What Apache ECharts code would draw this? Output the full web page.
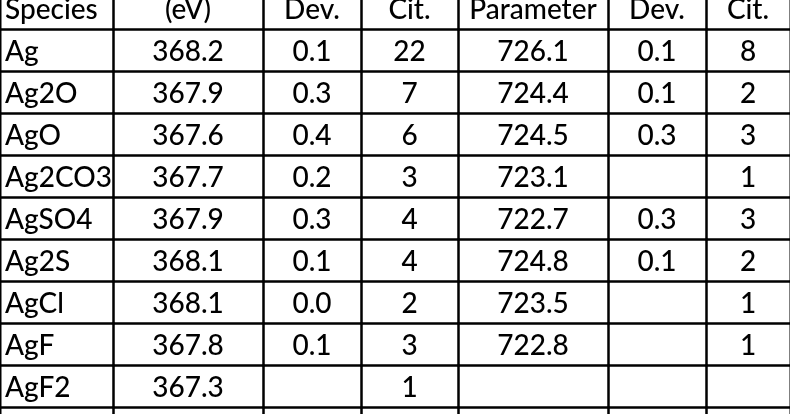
<!DOCTYPE html>
<html>
<head>
<meta charset="utf-8">
<script src="https://cdn.jsdelivr.net/npm/echarts@6/dist/echarts.min.js"></script>
<style>html,body{margin:0;padding:0;background:#fff}#main{width:790px;height:414px}</style>
</head>
<body>
<div id="main"></div>
<script>
var headers = ['Species', '(eV)', 'Dev.', 'Cit.', 'Parameter', 'Dev.', 'Cit.'];
var species = ['Ag', 'Ag2O', 'AgO', 'Ag2CO3', 'AgSO4', 'Ag2S', 'AgCl', 'AgF', 'AgF2', ''];
var energy1 = ['368.2', '367.9', '367.6', '367.7', '367.9', '368.1', '368.1', '367.8', '367.3', ''];
var dev1 = ['0.1', '0.3', '0.4', '0.2', '0.3', '0.1', '0.0', '0.1', '', ''];
var cit1 = ['22', '7', '6', '3', '4', '4', '2', '3', '1', ''];
var energy2 = ['726.1', '724.4', '724.5', '723.1', '722.7', '724.8', '723.5', '722.8', '', ''];
var dev2 = ['0.1', '0.1', '0.3', '', '0.3', '0.1', '', '', '', ''];
var cit2 = ['8', '2', '3', '1', '3', '2', '1', '1', '', ''];

// layout: column edges (px) and row geometry
var colEdges = [0, 113, 263, 361, 458, 608, 706, 790];
var rowTop = -13, rowH = 42;

var columns = [species, energy1, dev1, cit1, energy2, dev2, cit2];
var cells = [];
headers.forEach(function (h, c) { cells.push([c, 0, h]); });
for (var r = 0; r < species.length; r++) {
  columns.forEach(function (col, c) { cells.push([c, r + 1, col[r]]); });
}

var chart = echarts.init(document.getElementById('main'));
chart.setOption({
  animation: false,
  grid: { left: 0, right: 0, top: 0, bottom: 0 },
  xAxis: { type: 'value', min: 0, max: 790, show: false },
  yAxis: { type: 'value', min: 0, max: 414, inverse: true, show: false },
  series: [{
    type: 'custom',
    data: cells,
    clip: true,
    renderItem: function (params, api) {
      var c = api.value(0), r = api.value(1);
      var x0 = colEdges[c], x1 = colEdges[c + 1];
      var y0 = rowTop + r * rowH, y1 = y0 + rowH;
      var p0 = api.coord([x0, y0]), p1 = api.coord([x1, y1]);
      var txt = cells[params.dataIndex][2];
      var left = c === 0;
      return {
        type: 'group',
        children: [{
          type: 'rect',
          shape: { x: p0[0] + 0.5, y: p0[1] + 0.5, width: p1[0] - p0[0], height: p1[1] - p0[1] },
          style: { fill: null, stroke: '#000', lineWidth: 2 }
        }, {
          type: 'text',
          x: left ? p0[0] + 5 : (p0[0] + p1[0]) / 2,
          y: (p0[1] + p1[1]) / 2 + 2,
          style: {
            text: txt, fill: '#000', fontFamily: 'Lato, "Open Sans", sans-serif',
            fontSize: 28, fontWeight: 500,
            align: left ? 'left' : 'center', verticalAlign: 'middle'
          }
        }]
      };
    }
  }]
});
</script>
</body>
</html>
